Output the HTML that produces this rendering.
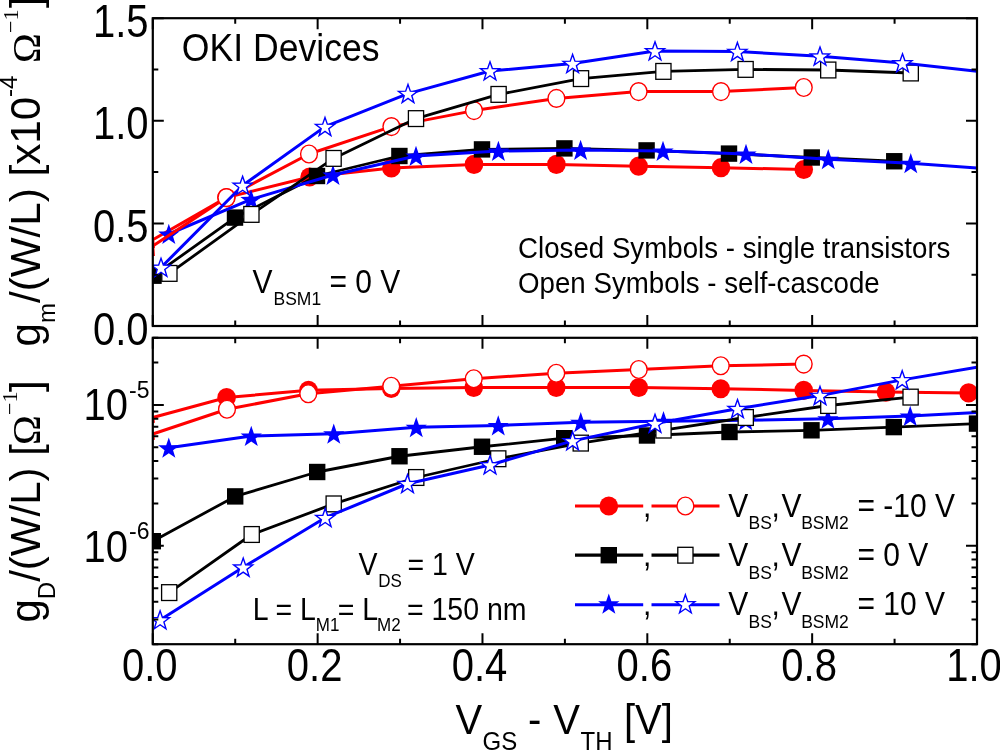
<!DOCTYPE html>
<html><head><meta charset="utf-8"><style>html,body{margin:0;padding:0;background:#fff;width:1000px;height:751px;overflow:hidden}svg{display:block;will-change:transform}</style></head><body><svg width="1000" height="751" viewBox="0 0 1000 751"><defs><clipPath id="c1"><rect x="152.8" y="18.2" width="824.2" height="307.8"/></clipPath><clipPath id="c2"><rect x="152.8" y="337.8" width="824.2" height="306.4"/></clipPath></defs><g clip-path="url(#c1)"><polyline fill="none" stroke="#ff0000" stroke-width="3" stroke-linejoin="round" points="153.40,248.00 152.80,239.80 226.40,197.60 309.60,177.00 391.40,168.00 474.00,164.40 556.40,164.40 638.60,166.20 721.00,167.70 803.75,169.50"/><ellipse cx="226.40" cy="197.60" rx="9.3" ry="9.6" fill="#ff0000"/><ellipse cx="309.60" cy="177.00" rx="9.3" ry="9.6" fill="#ff0000"/><ellipse cx="391.40" cy="168.00" rx="9.3" ry="9.6" fill="#ff0000"/><ellipse cx="474.00" cy="164.40" rx="9.3" ry="9.6" fill="#ff0000"/><ellipse cx="556.40" cy="164.40" rx="9.3" ry="9.6" fill="#ff0000"/><ellipse cx="638.60" cy="166.20" rx="9.3" ry="9.6" fill="#ff0000"/><ellipse cx="721.00" cy="167.70" rx="9.3" ry="9.6" fill="#ff0000"/><ellipse cx="803.75" cy="169.50" rx="9.3" ry="9.6" fill="#ff0000"/><polyline fill="none" stroke="#000000" stroke-width="2.8" stroke-linejoin="round" points="153.50,275.70 235.00,217.60 317.00,176.00 399.40,156.00 482.00,149.40 564.40,148.40 646.60,150.40 729.00,153.60 811.75,157.50 894.25,161.25"/><rect x="145.30" y="267.50" width="16.4" height="16.4" fill="#000000"/><rect x="226.80" y="209.40" width="16.4" height="16.4" fill="#000000"/><rect x="308.80" y="167.80" width="16.4" height="16.4" fill="#000000"/><rect x="391.20" y="147.80" width="16.4" height="16.4" fill="#000000"/><rect x="473.80" y="141.20" width="16.4" height="16.4" fill="#000000"/><rect x="556.20" y="140.20" width="16.4" height="16.4" fill="#000000"/><rect x="638.40" y="142.20" width="16.4" height="16.4" fill="#000000"/><rect x="720.80" y="145.40" width="16.4" height="16.4" fill="#000000"/><rect x="803.55" y="149.30" width="16.4" height="16.4" fill="#000000"/><rect x="886.05" y="153.05" width="16.4" height="16.4" fill="#000000"/><polyline fill="none" stroke="#0000ff" stroke-width="3" stroke-linejoin="round" points="168.80,234.00 251.00,199.40 333.00,175.00 416.00,156.00 498.40,151.00 580.60,150.00 663.00,151.00 746.00,154.00 828.25,159.25 910.75,163.25 977.00,168.00"/><polygon points="168.80,223.80 171.43,231.38 179.45,231.54 173.06,236.38 175.38,244.06 168.80,239.48 162.22,244.06 164.54,236.38 158.15,231.54 166.17,231.38" fill="#0000ff"/><polygon points="251.00,189.20 253.63,196.78 261.65,196.94 255.26,201.78 257.58,209.46 251.00,204.88 244.42,209.46 246.74,201.78 240.35,196.94 248.37,196.78" fill="#0000ff"/><polygon points="333.00,164.80 335.63,172.38 343.65,172.54 337.26,177.38 339.58,185.06 333.00,180.48 326.42,185.06 328.74,177.38 322.35,172.54 330.37,172.38" fill="#0000ff"/><polygon points="416.00,145.80 418.63,153.38 426.65,153.54 420.26,158.38 422.58,166.06 416.00,161.48 409.42,166.06 411.74,158.38 405.35,153.54 413.37,153.38" fill="#0000ff"/><polygon points="498.40,140.80 501.03,148.38 509.05,148.54 502.66,153.38 504.98,161.06 498.40,156.48 491.82,161.06 494.14,153.38 487.75,148.54 495.77,148.38" fill="#0000ff"/><polygon points="580.60,139.80 583.23,147.38 591.25,147.54 584.86,152.38 587.18,160.06 580.60,155.48 574.02,160.06 576.34,152.38 569.95,147.54 577.97,147.38" fill="#0000ff"/><polygon points="663.00,140.80 665.63,148.38 673.65,148.54 667.26,153.38 669.58,161.06 663.00,156.48 656.42,161.06 658.74,153.38 652.35,148.54 660.37,148.38" fill="#0000ff"/><polygon points="746.00,143.80 748.63,151.38 756.65,151.54 750.26,156.38 752.58,164.06 746.00,159.48 739.42,164.06 741.74,156.38 735.35,151.54 743.37,151.38" fill="#0000ff"/><polygon points="828.25,149.05 830.88,156.63 838.90,156.79 832.51,161.63 834.83,169.31 828.25,164.73 821.67,169.31 823.99,161.63 817.60,156.79 825.62,156.63" fill="#0000ff"/><polygon points="910.75,153.05 913.38,160.63 921.40,160.79 915.01,165.63 917.33,173.31 910.75,168.73 904.17,173.31 906.49,165.63 900.10,160.79 908.12,160.63" fill="#0000ff"/><polyline fill="none" stroke="#ff0000" stroke-width="3" stroke-linejoin="round" points="153.40,256.00 152.80,246.00 226.40,197.60 309.00,154.00 391.40,126.60 474.00,110.60 556.40,98.40 638.60,91.60 721.00,91.60 803.75,87.50"/><ellipse cx="226.40" cy="197.60" rx="8.4" ry="8.9" fill="#fff" stroke="#ff0000" stroke-width="1.4"/><ellipse cx="309.00" cy="154.00" rx="8.4" ry="8.9" fill="#fff" stroke="#ff0000" stroke-width="1.4"/><ellipse cx="391.40" cy="126.60" rx="8.4" ry="8.9" fill="#fff" stroke="#ff0000" stroke-width="1.4"/><ellipse cx="474.00" cy="110.60" rx="8.4" ry="8.9" fill="#fff" stroke="#ff0000" stroke-width="1.4"/><ellipse cx="556.40" cy="98.40" rx="8.4" ry="8.9" fill="#fff" stroke="#ff0000" stroke-width="1.4"/><ellipse cx="638.60" cy="91.60" rx="8.4" ry="8.9" fill="#fff" stroke="#ff0000" stroke-width="1.4"/><ellipse cx="721.00" cy="91.60" rx="8.4" ry="8.9" fill="#fff" stroke="#ff0000" stroke-width="1.4"/><ellipse cx="803.75" cy="87.50" rx="8.4" ry="8.9" fill="#fff" stroke="#ff0000" stroke-width="1.4"/><polyline fill="none" stroke="#000000" stroke-width="2.8" stroke-linejoin="round" points="169.40,273.40 251.40,214.40 333.60,158.40 416.00,118.60 498.60,94.40 581.00,78.60 663.40,71.40 745.60,69.40 828.25,70.00 910.75,73.00"/><rect x="161.80" y="265.50" width="15.2" height="15.8" fill="#fff" stroke="#000000" stroke-width="1.3"/><rect x="243.80" y="206.50" width="15.2" height="15.8" fill="#fff" stroke="#000000" stroke-width="1.3"/><rect x="326.00" y="150.50" width="15.2" height="15.8" fill="#fff" stroke="#000000" stroke-width="1.3"/><rect x="408.40" y="110.70" width="15.2" height="15.8" fill="#fff" stroke="#000000" stroke-width="1.3"/><rect x="491.00" y="86.50" width="15.2" height="15.8" fill="#fff" stroke="#000000" stroke-width="1.3"/><rect x="573.40" y="70.70" width="15.2" height="15.8" fill="#fff" stroke="#000000" stroke-width="1.3"/><rect x="655.80" y="63.50" width="15.2" height="15.8" fill="#fff" stroke="#000000" stroke-width="1.3"/><rect x="738.00" y="61.50" width="15.2" height="15.8" fill="#fff" stroke="#000000" stroke-width="1.3"/><rect x="820.65" y="62.10" width="15.2" height="15.8" fill="#fff" stroke="#000000" stroke-width="1.3"/><rect x="903.15" y="65.10" width="15.2" height="15.8" fill="#fff" stroke="#000000" stroke-width="1.3"/><polyline fill="none" stroke="#0000ff" stroke-width="3" stroke-linejoin="round" points="161.00,267.50 242.60,185.50 325.00,126.60 408.00,93.60 490.00,71.00 572.60,63.60 655.00,51.00 737.40,51.60 820.00,56.25 902.50,63.00 977.00,71.25"/><polygon points="161.00,258.30 163.35,265.06 170.51,265.21 164.80,269.54 166.88,276.39 161.00,272.30 155.12,276.39 157.20,269.54 151.49,265.21 158.65,265.06" fill="#fff" stroke="#0000ff" stroke-width="1.4" stroke-linejoin="miter"/><polygon points="242.60,176.30 244.95,183.06 252.11,183.21 246.40,187.54 248.48,194.39 242.60,190.30 236.72,194.39 238.80,187.54 233.09,183.21 240.25,183.06" fill="#fff" stroke="#0000ff" stroke-width="1.4" stroke-linejoin="miter"/><polygon points="325.00,117.40 327.35,124.16 334.51,124.31 328.80,128.64 330.88,135.49 325.00,131.40 319.12,135.49 321.20,128.64 315.49,124.31 322.65,124.16" fill="#fff" stroke="#0000ff" stroke-width="1.4" stroke-linejoin="miter"/><polygon points="408.00,84.40 410.35,91.16 417.51,91.31 411.80,95.64 413.88,102.49 408.00,98.40 402.12,102.49 404.20,95.64 398.49,91.31 405.65,91.16" fill="#fff" stroke="#0000ff" stroke-width="1.4" stroke-linejoin="miter"/><polygon points="490.00,61.80 492.35,68.56 499.51,68.71 493.80,73.04 495.88,79.89 490.00,75.80 484.12,79.89 486.20,73.04 480.49,68.71 487.65,68.56" fill="#fff" stroke="#0000ff" stroke-width="1.4" stroke-linejoin="miter"/><polygon points="572.60,54.40 574.95,61.16 582.11,61.31 576.40,65.64 578.48,72.49 572.60,68.40 566.72,72.49 568.80,65.64 563.09,61.31 570.25,61.16" fill="#fff" stroke="#0000ff" stroke-width="1.4" stroke-linejoin="miter"/><polygon points="655.00,41.80 657.35,48.56 664.51,48.71 658.80,53.04 660.88,59.89 655.00,55.80 649.12,59.89 651.20,53.04 645.49,48.71 652.65,48.56" fill="#fff" stroke="#0000ff" stroke-width="1.4" stroke-linejoin="miter"/><polygon points="737.40,42.40 739.75,49.16 746.91,49.31 741.20,53.64 743.28,60.49 737.40,56.40 731.52,60.49 733.60,53.64 727.89,49.31 735.05,49.16" fill="#fff" stroke="#0000ff" stroke-width="1.4" stroke-linejoin="miter"/><polygon points="820.00,47.05 822.35,53.81 829.51,53.96 823.80,58.29 825.88,65.14 820.00,61.05 814.12,65.14 816.20,58.29 810.49,53.96 817.65,53.81" fill="#fff" stroke="#0000ff" stroke-width="1.4" stroke-linejoin="miter"/><polygon points="902.50,53.80 904.85,60.56 912.01,60.71 906.30,65.04 908.38,71.89 902.50,67.80 896.62,71.89 898.70,65.04 892.99,60.71 900.15,60.56" fill="#fff" stroke="#0000ff" stroke-width="1.4" stroke-linejoin="miter"/></g><g clip-path="url(#c2)"><polyline fill="none" stroke="#ff0000" stroke-width="3" stroke-linejoin="round" points="153.40,423.00 152.80,417.50 226.60,397.50 308.50,390.30 391.25,388.50 473.75,387.50 556.25,387.50 638.75,387.50 720.75,388.75 803.70,390.40 886.00,392.10 968.60,392.90 977.00,393.00"/><ellipse cx="226.60" cy="397.50" rx="9.3" ry="9.6" fill="#ff0000"/><ellipse cx="308.50" cy="390.30" rx="9.3" ry="9.6" fill="#ff0000"/><ellipse cx="391.25" cy="388.50" rx="9.3" ry="9.6" fill="#ff0000"/><ellipse cx="473.75" cy="387.50" rx="9.3" ry="9.6" fill="#ff0000"/><ellipse cx="556.25" cy="387.50" rx="9.3" ry="9.6" fill="#ff0000"/><ellipse cx="638.75" cy="387.50" rx="9.3" ry="9.6" fill="#ff0000"/><ellipse cx="720.75" cy="388.75" rx="9.3" ry="9.6" fill="#ff0000"/><ellipse cx="803.70" cy="390.40" rx="9.3" ry="9.6" fill="#ff0000"/><ellipse cx="886.00" cy="392.10" rx="9.3" ry="9.6" fill="#ff0000"/><ellipse cx="968.60" cy="392.90" rx="9.3" ry="9.6" fill="#ff0000"/><polyline fill="none" stroke="#000000" stroke-width="2.8" stroke-linejoin="round" points="152.80,541.20 235.20,496.40 317.20,472.00 399.50,456.25 482.00,446.75 564.20,438.20 647.00,435.50 729.50,432.00 811.50,430.30 893.80,427.10 977.00,423.60"/><rect x="144.60" y="533.00" width="16.4" height="16.4" fill="#000000"/><rect x="227.00" y="488.20" width="16.4" height="16.4" fill="#000000"/><rect x="309.00" y="463.80" width="16.4" height="16.4" fill="#000000"/><rect x="391.30" y="448.05" width="16.4" height="16.4" fill="#000000"/><rect x="473.80" y="438.55" width="16.4" height="16.4" fill="#000000"/><rect x="556.00" y="430.00" width="16.4" height="16.4" fill="#000000"/><rect x="638.80" y="427.30" width="16.4" height="16.4" fill="#000000"/><rect x="721.30" y="423.80" width="16.4" height="16.4" fill="#000000"/><rect x="803.30" y="422.10" width="16.4" height="16.4" fill="#000000"/><rect x="885.60" y="418.90" width="16.4" height="16.4" fill="#000000"/><rect x="968.80" y="415.40" width="16.4" height="16.4" fill="#000000"/><polyline fill="none" stroke="#0000ff" stroke-width="3" stroke-linejoin="round" points="168.80,447.75 251.25,436.00 333.75,433.80 416.25,427.30 498.25,425.50 580.75,422.30 663.50,421.30 745.75,420.20 827.90,418.75 910.20,416.00 977.00,412.40"/><polygon points="168.80,437.55 171.43,445.13 179.45,445.29 173.06,450.13 175.38,457.81 168.80,453.23 162.22,457.81 164.54,450.13 158.15,445.29 166.17,445.13" fill="#0000ff"/><polygon points="251.25,425.80 253.88,433.38 261.90,433.54 255.51,438.38 257.83,446.06 251.25,441.48 244.67,446.06 246.99,438.38 240.60,433.54 248.62,433.38" fill="#0000ff"/><polygon points="333.75,423.60 336.38,431.18 344.40,431.34 338.01,436.18 340.33,443.86 333.75,439.28 327.17,443.86 329.49,436.18 323.10,431.34 331.12,431.18" fill="#0000ff"/><polygon points="416.25,417.10 418.88,424.68 426.90,424.84 420.51,429.68 422.83,437.36 416.25,432.78 409.67,437.36 411.99,429.68 405.60,424.84 413.62,424.68" fill="#0000ff"/><polygon points="498.25,415.30 500.88,422.88 508.90,423.04 502.51,427.88 504.83,435.56 498.25,430.98 491.67,435.56 493.99,427.88 487.60,423.04 495.62,422.88" fill="#0000ff"/><polygon points="580.75,412.10 583.38,419.68 591.40,419.84 585.01,424.68 587.33,432.36 580.75,427.78 574.17,432.36 576.49,424.68 570.10,419.84 578.12,419.68" fill="#0000ff"/><polygon points="663.50,411.10 666.13,418.68 674.15,418.84 667.76,423.68 670.08,431.36 663.50,426.78 656.92,431.36 659.24,423.68 652.85,418.84 660.87,418.68" fill="#0000ff"/><polygon points="745.75,410.00 748.38,417.58 756.40,417.74 750.01,422.58 752.33,430.26 745.75,425.68 739.17,430.26 741.49,422.58 735.10,417.74 743.12,417.58" fill="#0000ff"/><polygon points="827.90,408.55 830.53,416.13 838.55,416.29 832.16,421.13 834.48,428.81 827.90,424.23 821.32,428.81 823.64,421.13 817.25,416.29 825.27,416.13" fill="#0000ff"/><polygon points="910.20,405.80 912.83,413.38 920.85,413.54 914.46,418.38 916.78,426.06 910.20,421.48 903.62,426.06 905.94,418.38 899.55,413.54 907.57,413.38" fill="#0000ff"/><polyline fill="none" stroke="#ff0000" stroke-width="3" stroke-linejoin="round" points="153.40,440.00 152.80,434.00 227.00,409.25 308.25,393.75 391.25,386.25 473.75,378.75 556.25,373.25 638.75,369.50 720.75,365.75 803.70,364.10"/><ellipse cx="227.00" cy="409.25" rx="8.4" ry="8.9" fill="#fff" stroke="#ff0000" stroke-width="1.4"/><ellipse cx="308.25" cy="393.75" rx="8.4" ry="8.9" fill="#fff" stroke="#ff0000" stroke-width="1.4"/><ellipse cx="391.25" cy="386.25" rx="8.4" ry="8.9" fill="#fff" stroke="#ff0000" stroke-width="1.4"/><ellipse cx="473.75" cy="378.75" rx="8.4" ry="8.9" fill="#fff" stroke="#ff0000" stroke-width="1.4"/><ellipse cx="556.25" cy="373.25" rx="8.4" ry="8.9" fill="#fff" stroke="#ff0000" stroke-width="1.4"/><ellipse cx="638.75" cy="369.50" rx="8.4" ry="8.9" fill="#fff" stroke="#ff0000" stroke-width="1.4"/><ellipse cx="720.75" cy="365.75" rx="8.4" ry="8.9" fill="#fff" stroke="#ff0000" stroke-width="1.4"/><ellipse cx="803.70" cy="364.10" rx="8.4" ry="8.9" fill="#fff" stroke="#ff0000" stroke-width="1.4"/><polyline fill="none" stroke="#000000" stroke-width="2.8" stroke-linejoin="round" points="169.20,592.60 251.70,534.50 333.70,503.90 416.25,477.50 498.25,458.75 580.75,443.10 663.50,430.10 745.75,417.50 828.30,405.50 910.60,397.10"/><rect x="161.60" y="584.70" width="15.2" height="15.8" fill="#fff" stroke="#000000" stroke-width="1.3"/><rect x="244.10" y="526.60" width="15.2" height="15.8" fill="#fff" stroke="#000000" stroke-width="1.3"/><rect x="326.10" y="496.00" width="15.2" height="15.8" fill="#fff" stroke="#000000" stroke-width="1.3"/><rect x="408.65" y="469.60" width="15.2" height="15.8" fill="#fff" stroke="#000000" stroke-width="1.3"/><rect x="490.65" y="450.85" width="15.2" height="15.8" fill="#fff" stroke="#000000" stroke-width="1.3"/><rect x="573.15" y="435.20" width="15.2" height="15.8" fill="#fff" stroke="#000000" stroke-width="1.3"/><rect x="655.90" y="422.20" width="15.2" height="15.8" fill="#fff" stroke="#000000" stroke-width="1.3"/><rect x="738.15" y="409.60" width="15.2" height="15.8" fill="#fff" stroke="#000000" stroke-width="1.3"/><rect x="820.70" y="397.60" width="15.2" height="15.8" fill="#fff" stroke="#000000" stroke-width="1.3"/><rect x="903.00" y="389.20" width="15.2" height="15.8" fill="#fff" stroke="#000000" stroke-width="1.3"/><polyline fill="none" stroke="#0000ff" stroke-width="3" stroke-linejoin="round" points="160.10,620.00 243.20,567.30 325.20,517.70 407.50,483.75 490.00,465.00 572.60,440.90 655.00,423.50 737.50,408.75 820.00,395.60 902.20,379.90 977.00,367.30"/><polygon points="160.10,610.80 162.45,617.56 169.61,617.71 163.90,622.04 165.98,628.89 160.10,624.80 154.22,628.89 156.30,622.04 150.59,617.71 157.75,617.56" fill="#fff" stroke="#0000ff" stroke-width="1.4" stroke-linejoin="miter"/><polygon points="243.20,558.10 245.55,564.86 252.71,565.01 247.00,569.34 249.08,576.19 243.20,572.10 237.32,576.19 239.40,569.34 233.69,565.01 240.85,564.86" fill="#fff" stroke="#0000ff" stroke-width="1.4" stroke-linejoin="miter"/><polygon points="325.20,508.50 327.55,515.26 334.71,515.41 329.00,519.74 331.08,526.59 325.20,522.50 319.32,526.59 321.40,519.74 315.69,515.41 322.85,515.26" fill="#fff" stroke="#0000ff" stroke-width="1.4" stroke-linejoin="miter"/><polygon points="407.50,474.55 409.85,481.31 417.01,481.46 411.30,485.79 413.38,492.64 407.50,488.55 401.62,492.64 403.70,485.79 397.99,481.46 405.15,481.31" fill="#fff" stroke="#0000ff" stroke-width="1.4" stroke-linejoin="miter"/><polygon points="490.00,455.80 492.35,462.56 499.51,462.71 493.80,467.04 495.88,473.89 490.00,469.80 484.12,473.89 486.20,467.04 480.49,462.71 487.65,462.56" fill="#fff" stroke="#0000ff" stroke-width="1.4" stroke-linejoin="miter"/><polygon points="572.60,431.70 574.95,438.46 582.11,438.61 576.40,442.94 578.48,449.79 572.60,445.70 566.72,449.79 568.80,442.94 563.09,438.61 570.25,438.46" fill="#fff" stroke="#0000ff" stroke-width="1.4" stroke-linejoin="miter"/><polygon points="655.00,414.30 657.35,421.06 664.51,421.21 658.80,425.54 660.88,432.39 655.00,428.30 649.12,432.39 651.20,425.54 645.49,421.21 652.65,421.06" fill="#fff" stroke="#0000ff" stroke-width="1.4" stroke-linejoin="miter"/><polygon points="737.50,399.55 739.85,406.31 747.01,406.46 741.30,410.79 743.38,417.64 737.50,413.55 731.62,417.64 733.70,410.79 727.99,406.46 735.15,406.31" fill="#fff" stroke="#0000ff" stroke-width="1.4" stroke-linejoin="miter"/><polygon points="820.00,386.40 822.35,393.16 829.51,393.31 823.80,397.64 825.88,404.49 820.00,400.40 814.12,404.49 816.20,397.64 810.49,393.31 817.65,393.16" fill="#fff" stroke="#0000ff" stroke-width="1.4" stroke-linejoin="miter"/><polygon points="902.20,370.70 904.55,377.46 911.71,377.61 906.00,381.94 908.08,388.79 902.20,384.70 896.32,388.79 898.40,381.94 892.69,377.61 899.85,377.46" fill="#fff" stroke="#0000ff" stroke-width="1.4" stroke-linejoin="miter"/></g><path d="M152.80 18.20L152.80 29.20 M152.80 326.00L152.80 315.00 M235.22 18.20L235.22 23.70 M235.22 326.00L235.22 320.50 M317.64 18.20L317.64 29.20 M317.64 326.00L317.64 315.00 M400.06 18.20L400.06 23.70 M400.06 326.00L400.06 320.50 M482.48 18.20L482.48 29.20 M482.48 326.00L482.48 315.00 M564.90 18.20L564.90 23.70 M564.90 326.00L564.90 320.50 M647.32 18.20L647.32 29.20 M647.32 326.00L647.32 315.00 M729.74 18.20L729.74 23.70 M729.74 326.00L729.74 320.50 M812.16 18.20L812.16 29.20 M812.16 326.00L812.16 315.00 M894.58 18.20L894.58 23.70 M894.58 326.00L894.58 320.50 M977.00 18.20L977.00 29.20 M977.00 326.00L977.00 315.00 M152.80 337.80L152.80 348.80 M152.80 644.20L152.80 633.20 M235.22 337.80L235.22 343.30 M235.22 644.20L235.22 638.70 M317.64 337.80L317.64 348.80 M317.64 644.20L317.64 633.20 M400.06 337.80L400.06 343.30 M400.06 644.20L400.06 638.70 M482.48 337.80L482.48 348.80 M482.48 644.20L482.48 633.20 M564.90 337.80L564.90 343.30 M564.90 644.20L564.90 638.70 M647.32 337.80L647.32 348.80 M647.32 644.20L647.32 633.20 M729.74 337.80L729.74 343.30 M729.74 644.20L729.74 638.70 M812.16 337.80L812.16 348.80 M812.16 644.20L812.16 633.20 M894.58 337.80L894.58 343.30 M894.58 644.20L894.58 638.70 M977.00 337.80L977.00 348.80 M977.00 644.20L977.00 633.20 M152.80 326.00L163.80 326.00 M977.00 326.00L966.00 326.00 M152.80 274.70L158.30 274.70 M977.00 274.70L971.50 274.70 M152.80 223.40L163.80 223.40 M977.00 223.40L966.00 223.40 M152.80 172.10L158.30 172.10 M977.00 172.10L971.50 172.10 M152.80 120.80L163.80 120.80 M977.00 120.80L966.00 120.80 M152.80 69.50L158.30 69.50 M977.00 69.50L971.50 69.50 M152.80 18.20L163.80 18.20 M977.00 18.20L966.00 18.20 M152.80 337.80L158.30 337.80 M977.00 337.80L971.50 337.80 M152.80 362.59L158.30 362.59 M977.00 362.59L971.50 362.59 M152.80 404.98L163.80 404.98 M977.00 404.98L966.00 404.98 M152.80 411.42L158.30 411.42 M977.00 411.42L971.50 411.42 M152.80 418.63L158.30 418.63 M977.00 418.63L971.50 418.63 M152.80 426.79L158.30 426.79 M977.00 426.79L971.50 426.79 M152.80 436.22L158.30 436.22 M977.00 436.22L971.50 436.22 M152.80 447.37L158.30 447.37 M977.00 447.37L971.50 447.37 M152.80 461.01L158.30 461.01 M977.00 461.01L971.50 461.01 M152.80 478.60L158.30 478.60 M977.00 478.60L971.50 478.60 M152.80 503.40L158.30 503.40 M977.00 503.40L971.50 503.40 M152.80 545.78L163.80 545.78 M977.00 545.78L966.00 545.78 M152.80 552.23L158.30 552.23 M977.00 552.23L971.50 552.23 M152.80 559.43L158.30 559.43 M977.00 559.43L971.50 559.43 M152.80 567.59L158.30 567.59 M977.00 567.59L971.50 567.59 M152.80 577.02L158.30 577.02 M977.00 577.02L971.50 577.02 M152.80 588.17L158.30 588.17 M977.00 588.17L971.50 588.17 M152.80 601.81L158.30 601.81 M977.00 601.81L971.50 601.81 M152.80 619.41L158.30 619.41 M977.00 619.41L971.50 619.41 M152.80 644.20L158.30 644.20 M977.00 644.20L971.50 644.20" stroke="#000" stroke-width="2" fill="none"/><rect x="152.80" y="18.20" width="824.20" height="307.80" fill="none" stroke="#000" stroke-width="2.2"/><rect x="152.80" y="337.80" width="824.20" height="306.40" fill="none" stroke="#000" stroke-width="2.2"/><text transform="translate(148.50 344.50) scale(1 1.140)" font-family="Liberation Sans" font-size="40.00" text-anchor="end" >0.0</text><text transform="translate(148.50 241.90) scale(1 1.140)" font-family="Liberation Sans" font-size="40.00" text-anchor="end" >0.5</text><text transform="translate(148.50 139.30) scale(1 1.140)" font-family="Liberation Sans" font-size="40.00" text-anchor="end" >1.0</text><text transform="translate(148.50 36.70) scale(1 1.140)" font-family="Liberation Sans" font-size="40.00" text-anchor="end" >1.5</text><text transform="translate(149.80 681.00) scale(1 1.140)" font-family="Liberation Sans" font-size="40.00" text-anchor="middle" >0.0</text><text transform="translate(314.64 681.00) scale(1 1.140)" font-family="Liberation Sans" font-size="40.00" text-anchor="middle" >0.2</text><text transform="translate(479.48 681.00) scale(1 1.140)" font-family="Liberation Sans" font-size="40.00" text-anchor="middle" >0.4</text><text transform="translate(644.32 681.00) scale(1 1.140)" font-family="Liberation Sans" font-size="40.00" text-anchor="middle" >0.6</text><text transform="translate(809.16 681.00) scale(1 1.140)" font-family="Liberation Sans" font-size="40.00" text-anchor="middle" >0.8</text><text transform="translate(974.00 681.00) scale(1 1.140)" font-family="Liberation Sans" font-size="40.00" text-anchor="middle" >1.0</text><text transform="translate(128 420.30) scale(1 1.13)" font-family="Liberation Sans" font-size="40" text-anchor="end">10</text><text transform="translate(149.5 397.60) scale(1 1.08)" font-family="Liberation Sans" font-size="23" text-anchor="end">-5</text><text transform="translate(128 561.50) scale(1 1.13)" font-family="Liberation Sans" font-size="40" text-anchor="end">10</text><text transform="translate(149.5 538.80) scale(1 1.08)" font-family="Liberation Sans" font-size="23" text-anchor="end">-6</text><text transform="translate(181.80 60.80) scale(1 1.075)" font-family="Liberation Sans" font-size="35.60" text-anchor="start" >OKI Devices</text><text transform="translate(518.00 257.60) scale(1 1.075)" font-family="Liberation Sans" font-size="27.70" text-anchor="start" >Closed Symbols - single transistors</text><text transform="translate(518.00 292.50) scale(1 1.075)" font-family="Liberation Sans" font-size="27.70" text-anchor="start" >Open Symbols - self-cascode</text><path d="M575 506.00H643.2M651.5 506.00H719.5" stroke="#ff0000" stroke-width="3.2"/><ellipse cx="608.80" cy="506.00" rx="9.3" ry="9.6" fill="#ff0000"/><ellipse cx="685.40" cy="506.00" rx="8.4" ry="8.9" fill="#fff" stroke="#ff0000" stroke-width="1.4"/><text transform="translate(643.00 516.70) scale(1 1.080)" font-family="Liberation Sans" font-size="30.00" text-anchor="start" >,</text><text transform="translate(728.20 516.70) scale(1 1.080)" font-family="Liberation Sans" font-size="30.00" text-anchor="start" >V</text><text transform="translate(748.60 529.30) scale(1 1.080)" font-family="Liberation Sans" font-size="17.50" text-anchor="start" >BS</text><text transform="translate(771.50 516.70) scale(1 1.080)" font-family="Liberation Sans" font-size="30.00" text-anchor="start" >,</text><text transform="translate(781.60 516.70) scale(1 1.080)" font-family="Liberation Sans" font-size="30.00" text-anchor="start" >V</text><text transform="translate(801.20 529.30) scale(1 1.080)" font-family="Liberation Sans" font-size="17.50" text-anchor="start" >BSM2</text><text transform="translate(857.50 516.70) scale(1 1.080)" font-family="Liberation Sans" font-size="30.00" text-anchor="start" >= -10 V</text><path d="M575 555.20H643.2M651.5 555.20H719.5" stroke="#000000" stroke-width="3.2"/><rect x="600.60" y="547.00" width="16.4" height="16.4" fill="#000000"/><rect x="677.80" y="547.30" width="15.2" height="15.8" fill="#fff" stroke="#000000" stroke-width="1.3"/><text transform="translate(643.00 565.90) scale(1 1.080)" font-family="Liberation Sans" font-size="30.00" text-anchor="start" >,</text><text transform="translate(728.20 565.90) scale(1 1.080)" font-family="Liberation Sans" font-size="30.00" text-anchor="start" >V</text><text transform="translate(748.60 578.50) scale(1 1.080)" font-family="Liberation Sans" font-size="17.50" text-anchor="start" >BS</text><text transform="translate(771.50 565.90) scale(1 1.080)" font-family="Liberation Sans" font-size="30.00" text-anchor="start" >,</text><text transform="translate(781.60 565.90) scale(1 1.080)" font-family="Liberation Sans" font-size="30.00" text-anchor="start" >V</text><text transform="translate(801.20 578.50) scale(1 1.080)" font-family="Liberation Sans" font-size="17.50" text-anchor="start" >BSM2</text><text transform="translate(857.50 565.90) scale(1 1.080)" font-family="Liberation Sans" font-size="30.00" text-anchor="start" >= 0 V</text><path d="M575 604.75H643.2M651.5 604.75H719.5" stroke="#0000ff" stroke-width="3.2"/><polygon points="608.80,593.55 611.43,601.13 619.45,601.29 613.06,606.13 615.38,613.81 608.80,609.23 602.22,613.81 604.54,606.13 598.15,601.29 606.17,601.13" fill="#0000ff"/><polygon points="685.40,594.75 687.75,601.51 694.91,601.66 689.20,605.99 691.28,612.84 685.40,608.75 679.52,612.84 681.60,605.99 675.89,601.66 683.05,601.51" fill="#fff" stroke="#0000ff" stroke-width="1.4" stroke-linejoin="miter"/><text transform="translate(643.00 615.45) scale(1 1.080)" font-family="Liberation Sans" font-size="30.00" text-anchor="start" >,</text><text transform="translate(728.20 615.45) scale(1 1.080)" font-family="Liberation Sans" font-size="30.00" text-anchor="start" >V</text><text transform="translate(748.60 628.05) scale(1 1.080)" font-family="Liberation Sans" font-size="17.50" text-anchor="start" >BS</text><text transform="translate(771.50 615.45) scale(1 1.080)" font-family="Liberation Sans" font-size="30.00" text-anchor="start" >,</text><text transform="translate(781.60 615.45) scale(1 1.080)" font-family="Liberation Sans" font-size="30.00" text-anchor="start" >V</text><text transform="translate(801.20 628.05) scale(1 1.080)" font-family="Liberation Sans" font-size="17.50" text-anchor="start" >BSM2</text><text transform="translate(857.50 615.45) scale(1 1.080)" font-family="Liberation Sans" font-size="30.00" text-anchor="start" >= 10 V</text><text transform="translate(252.50 293.00) scale(1 1.080)" font-family="Liberation Sans" font-size="30.00" text-anchor="start" >V</text><text transform="translate(273.50 305.20) scale(1 1.080)" font-family="Liberation Sans" font-size="17.50" text-anchor="start" >BSM1</text><text transform="translate(329.50 293.00) scale(1 1.080)" font-family="Liberation Sans" font-size="30.00" text-anchor="start" >= 0 V</text><text transform="translate(358.60 575.20) scale(1 1.080)" font-family="Liberation Sans" font-size="28.50" text-anchor="start" >V</text><text transform="translate(378.20 586.60) scale(1 1.080)" font-family="Liberation Sans" font-size="17.00" text-anchor="start" >DS</text><text transform="translate(407.50 575.20) scale(1 1.080)" font-family="Liberation Sans" font-size="28.50" text-anchor="start" >= 1 V</text><text transform="translate(252.70 620.10) scale(1 1.080)" font-family="Liberation Sans" font-size="28.50" text-anchor="start" >L = L</text><text transform="translate(315.80 631.30) scale(1 1.080)" font-family="Liberation Sans" font-size="17.00" text-anchor="start" >M1</text><text transform="translate(337.70 620.10) scale(1 1.080)" font-family="Liberation Sans" font-size="28.50" text-anchor="start" >= L</text><text transform="translate(377.10 631.30) scale(1 1.080)" font-family="Liberation Sans" font-size="17.00" text-anchor="start" >M2</text><text transform="translate(406.90 620.10) scale(1 1.080)" font-family="Liberation Sans" font-size="28.50" text-anchor="start" >= 150 nm</text><text transform="translate(455.50 734.00) scale(1 1.080)" font-family="Liberation Sans" font-size="40.00" text-anchor="start" >V</text><text transform="translate(482.50 750.30) scale(1 1.080)" font-family="Liberation Sans" font-size="24.00" text-anchor="start" >GS</text><text transform="translate(528.00 734.00) scale(1 1.080)" font-family="Liberation Sans" font-size="40.00" text-anchor="start" >-</text><text transform="translate(553.30 734.00) scale(1 1.080)" font-family="Liberation Sans" font-size="40.00" text-anchor="start" >V</text><text transform="translate(580.50 750.30) scale(1 1.080)" font-family="Liberation Sans" font-size="24.00" text-anchor="start" >TH</text><text transform="translate(624.00 734.00) scale(1 1.080)" font-family="Liberation Sans" font-size="40.00" text-anchor="start" >[V]</text><text transform="translate(39.50 346.50) rotate(-90)" font-family="Liberation Sans" font-size="42.20">g<tspan font-size="24" dy="15.6">m</tspan><tspan dy="-15.6">/(W/L) [x10</tspan></text><text transform="translate(17.00 97.00) rotate(-90)" font-family="Liberation Sans" font-size="24.00">-4</text><text transform="translate(40 63) rotate(-90)" font-family="Liberation Serif" font-size="40">&#937;</text><text transform="translate(17.5 33) rotate(-90)" font-family="Liberation Serif" font-size="22">&#8722;1</text><text transform="translate(39.50 8.00) rotate(-90)" font-family="Liberation Sans" font-size="42.00">]</text><text transform="translate(39.50 622.50) rotate(-90)" font-family="Liberation Sans" font-size="42.00">g<tspan font-size="24" dy="15.6">D</tspan><tspan dy="-15.6">/(W/L) [</tspan></text><text transform="translate(39.5 445) rotate(-90)" font-family="Liberation Serif" font-size="40">&#937;</text><text transform="translate(17 415) rotate(-90)" font-family="Liberation Serif" font-size="22">&#8722;1</text><text transform="translate(39.50 392.00) rotate(-90)" font-family="Liberation Sans" font-size="42.00">]</text></svg></body></html>
